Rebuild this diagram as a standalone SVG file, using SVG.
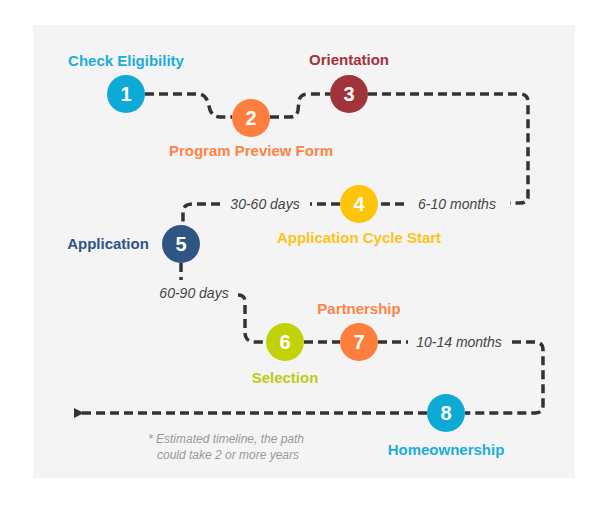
<svg xmlns="http://www.w3.org/2000/svg" width="600" height="511" viewBox="0 0 600 511">
<style>
.bg{fill:#f4f4f4}
.c{fill:none;stroke:#333;stroke-width:3.5;stroke-dasharray:9 5}
.n{font-family:"Liberation Sans",Arial,sans-serif;font-weight:bold;font-size:20px;fill:#fff;text-anchor:middle}
.l{font-family:"Liberation Sans",Arial,sans-serif;font-weight:bold;font-size:15px;text-anchor:middle}
.t{font-family:"Liberation Sans",Arial,sans-serif;font-style:italic;font-size:14px;fill:#444;text-anchor:middle}
.f{font-family:"Liberation Sans",Arial,sans-serif;font-style:italic;font-size:12px;fill:#999;text-anchor:middle}
</style>
<defs><marker id="ar" markerWidth="10" markerHeight="10" refX="2" refY="5" orient="auto" markerUnits="userSpaceOnUse"><path d="M10,0 L0,5 L10,10 Z" fill="#333"/></marker></defs>
<rect class="bg" x="33" y="25" width="542" height="453"/>
<g id="connectors">
<path class="c" d="M145,94 H198 Q205,94 208,102 L210,110 Q213,117 220,117 H232"/>
<path class="c" d="M270,117 H290 Q297,117 298,110 L299,101 Q300,94 308,94 H330"/>
<path class="c" d="M368,94 H520 Q528,94 528,102 V196 Q528,203 520,203 H510"/>
<path class="c" d="M404,204 H378"/>
<path class="c" d="M340,204 H310"/>
<path class="c" d="M220,204 H193 Q183,204 183,212 V225"/>
<path class="c" d="M181,263 V280"/>
<path class="c" d="M238,295 Q245,295 245,302 V332 Q245,342 255,342 H266"/>
<path class="c" d="M304,342 H340"/>
<path class="c" d="M378,342 H408"/>
<path class="c" d="M512,342 H535 Q543,342 543,350 V405 Q543,413 535,413 H465"/>
<path class="c" d="M427,413 H82" marker-end="url(#ar)"/>
</g>
<g id="n1"><circle cx="126" cy="94" r="19" fill="#0eaad6"/><text class="n" x="126" y="101">1</text><text class="l" x="126" y="66" fill="#1aaed8">Check Eligibility</text></g>
<g id="n2"><circle cx="251" cy="118" r="19" fill="#fd7e3d"/><text class="n" x="251" y="125">2</text><text class="l" x="251" y="156" fill="#fc8448">Program Preview Form</text></g>
<g id="n3"><circle cx="349" cy="94" r="19" fill="#a1333a"/><text class="n" x="349" y="101">3</text><text class="l" x="349" y="65" fill="#a1333a">Orientation</text></g>
<g id="n4"><circle cx="359" cy="204" r="19" fill="#fdc40c"/><text class="n" x="359" y="211">4</text><text class="l" x="359" y="243" fill="#fcc418">Application Cycle Start</text></g>
<g id="n5"><circle cx="181" cy="244" r="19" fill="#2f5585"/><text class="n" x="181" y="251">5</text><text class="l" x="108" y="249" fill="#2f5585">Application</text></g>
<g id="n6"><circle cx="285" cy="342" r="19" fill="#c2d20a"/><text class="n" x="285" y="349">6</text><text class="l" x="285" y="383" fill="#bccd12">Selection</text></g>
<g id="n7"><circle cx="359" cy="342" r="19" fill="#fd7e3d"/><text class="n" x="359" y="349">7</text><text class="l" x="359" y="314" fill="#fc8448">Partnership</text></g>
<g id="n8"><circle cx="446" cy="413" r="19" fill="#0eaad6"/><text class="n" x="446" y="420">8</text><text class="l" x="446" y="455" fill="#1aaed8">Homeownership</text></g>
<text class="t" x="265" y="209">30-60 days</text>
<text class="t" x="457" y="209">6-10 months</text>
<text class="t" x="194" y="298">60-90 days</text>
<text class="t" x="459" y="347">10-14 months</text>
<text class="f" x="226" y="443">* Estimated timeline, the path</text>
<text class="f" x="228" y="459">could take 2 or more years</text>
</svg>
